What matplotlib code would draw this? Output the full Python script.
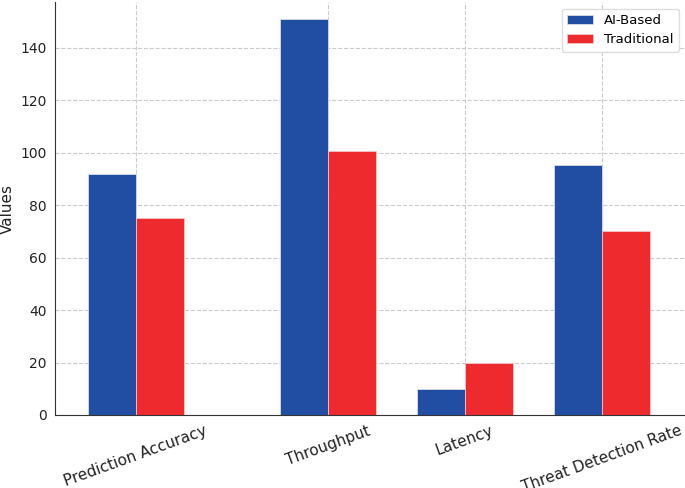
import matplotlib.pyplot as plt
import numpy as np

# Datos del gráfico
categories = ['Prediction Accuracy', 'Throughput', 'Latency', 'Threat Detection Rate']
ai_based = [92, 151, 10, 95.5]
traditional = [75, 100.5, 20, 70]
series_names = ['AI-Based', 'Traditional']

# Posiciones de las categorías (la primera separación es más ancha)
x = np.array([0, 1.4, 2.4, 3.4])
width = 0.35

fig = plt.figure(figsize=(6.85, 4.88), dpi=100)
ax = fig.add_axes([55 / 685, 73 / 488, 640 / 685, 413 / 488])

ax.bar(x - width / 2, ai_based, width, color='#214ea3', edgecolor='#d8dde8',
       linewidth=0.6, label=series_names[0], zorder=2)
ax.bar(x + width / 2, traditional, width, color='#ee2a2f', edgecolor='#f3c6c6',
       linewidth=0.6, label=series_names[1], zorder=2)

ax.set_xticks(x)
ax.set_xticklabels(categories, rotation=20, ha='center', fontsize=11, color='#222222')
ax.set_ylabel('Values', fontsize=11, color='#222222')
ax.tick_params(axis='y', labelsize=10, labelcolor='#222222', length=0, pad=6)
ax.tick_params(axis='x', length=0, pad=6)

ax.set_xlim(-0.59, 4.08)
ax.set_ylim(0, 157.5)
ax.set_yticks([0, 20, 40, 60, 80, 100, 120, 140])

ax.grid(True, linestyle='--', color='#cccccc', linewidth=0.8, zorder=0)
ax.set_axisbelow(True)

ax.spines['top'].set_visible(False)
ax.spines['right'].set_visible(False)
ax.spines['left'].set_color('#333333')
ax.spines['bottom'].set_color('#333333')

ax.legend(loc='upper right', bbox_to_anchor=(0.985, 1.0), fontsize=9.5,
          frameon=True, edgecolor='#dddddd', framealpha=1)

plt.savefig('out.png', dpi=100)
